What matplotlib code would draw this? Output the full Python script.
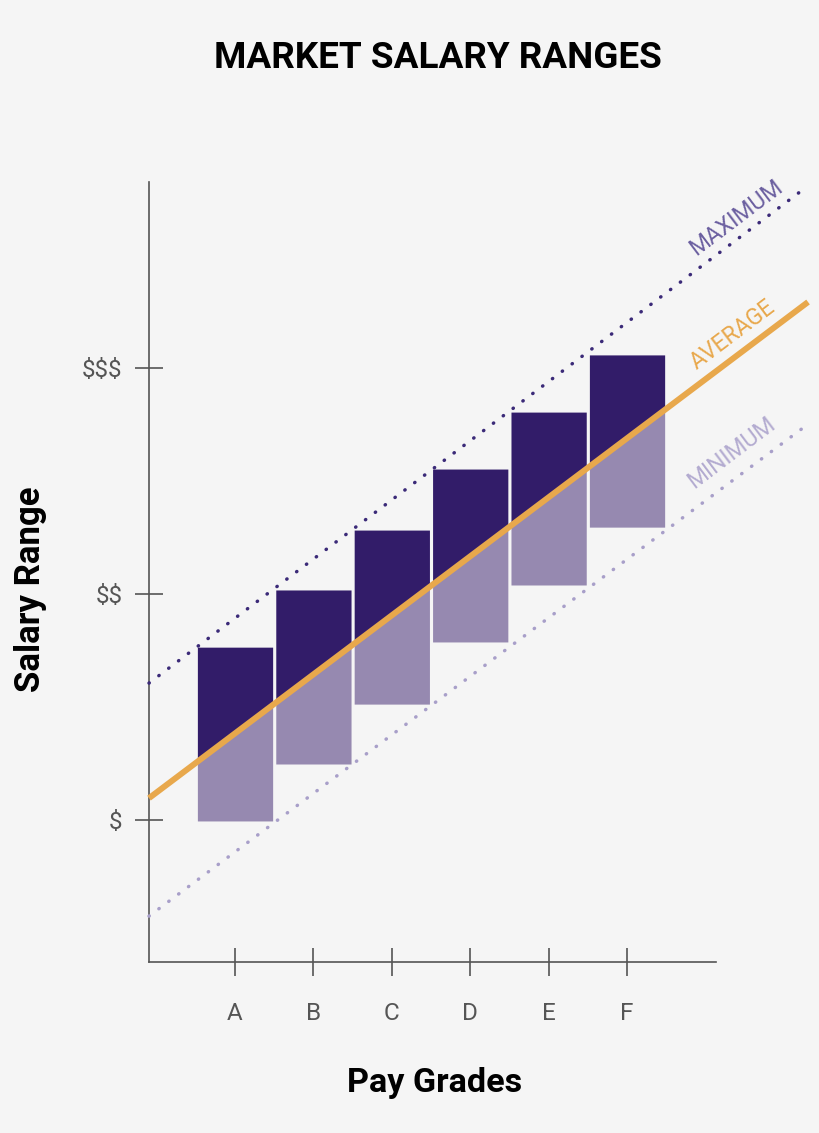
import matplotlib
matplotlib.use("Agg")
import matplotlib.pyplot as plt
import numpy as np

plt.rcParams["text.parse_math"] = False

# ---- data ----
grades = ["A", "B", "C", "D", "E", "F"]
range_max = [1.765, 2.018, 2.283, 2.553, 2.805, 3.058]
range_min = [0.996, 1.248, 1.513, 1.788, 2.040, 2.296]
ytick_vals = [1, 2, 3]
ytick_labels = ["$", "$$", "$$$"]
# trend lines: x endpoints and y endpoints
max_line_x = [-1.097, 7.270]
max_line_y = [1.606, 3.796]
avg_line_x = [-1.097, 7.309]
avg_line_y = [1.097, 3.292]
min_line_x = [-1.097, 7.245]
min_line_y = [0.575, 2.735]

BG = "#f5f5f5"
DARK = "#321c69"
LIGHT = "#9689b0"
ORANGE = "#e8a84c"
MAXC = "#3b2a78"
MINC = "#a89fc9"
AXC = "#555555"
HEAD = ["Roboto", "DejaVu Sans"]

fig = plt.figure(figsize=(8.2, 11.33), dpi=100, facecolor=BG)
ax = fig.add_axes([149/820, 171/1133, (716-149)/820, (962-182)/1133])
ax.set_facecolor(BG)
ax.set_xlim(-1.097, 6.135)
ax.set_ylim(0.372, 3.823)

def avg_at(x):
    return avg_line_y[0] + (avg_line_y[1]-avg_line_y[0])*(x-avg_line_x[0])/(avg_line_x[1]-avg_line_x[0])

w = 0.96
xs = np.arange(len(grades))
for i, (lo, hi) in enumerate(zip(range_min, range_max)):
    xx = np.array([i - w/2, i + w/2])
    ya = avg_at(xx)
    ax.fill_between(xx, lo, ya, color=LIGHT, lw=0, zorder=2)
    ax.fill_between(xx, ya, hi, color=DARK, lw=0, zorder=2)

ax.plot(max_line_x, max_line_y, color=MAXC, lw=2.5, linestyle=(0, (0.1, 3.45)),
        dash_capstyle="round", clip_on=False, zorder=3)
ax.plot(min_line_x, min_line_y, color=MINC, lw=2.5, linestyle=(0, (0.1, 3.45)),
        dash_capstyle="round", clip_on=False, zorder=3)
ax.plot(avg_line_x, avg_line_y, color=ORANGE, lw=4.3, solid_capstyle="butt",
        clip_on=False, zorder=4)

lab_font = dict(family=["Roboto", "DejaVu Sans"], fontweight="normal", fontsize=16.5,
                rotation=37, rotation_mode="anchor", ha="center", va="center")
ax.text(6.39, 3.664, "MAXIMUM", color="#6b5fa0", clip_on=False, **lab_font)
ax.text(6.35, 3.146, "AVERAGE", color=ORANGE, clip_on=False, **lab_font)
ax.text(6.33, 2.624, "MINIMUM", color="#b3abd0", clip_on=False, **lab_font)

for s in ["top", "right"]:
    ax.spines[s].set_visible(False)
for s in ["left", "bottom"]:
    ax.spines[s].set_color(AXC)
    ax.spines[s].set_linewidth(1.2)

ax.set_xticks(xs)
ax.set_xticklabels(grades)
ax.set_yticks(ytick_vals)
ax.set_yticklabels(ytick_labels)
ax.tick_params(axis="both", direction="inout", length=20, width=1.2, color=AXC,
               labelcolor="#555555", labelsize=17.5)
ax.tick_params(axis="x", pad=19)
ax.tick_params(axis="y", pad=9)
for t in ax.get_xticklabels() + ax.get_yticklabels():
    t.set_family(["Roboto", "DejaVu Sans"])
    t.set_fontweight("normal")

fig.text(0.5335, 0.9485, "MARKET SALARY RANGES", ha="center", va="center",
         fontsize=26.6, fontweight="bold", family=HEAD, color="black")
fig.text(0.53, 0.0441, "Pay Grades", ha="center", va="center",
         fontsize=24.6, fontweight="bold", family=HEAD, color="black")
fig.text(0.0366, 0.4797, "Salary Range", ha="center", va="center", rotation=90,
         fontsize=25, fontweight="bold", family=HEAD, color="black")

fig.savefig("out.png", dpi=100, facecolor=BG)
